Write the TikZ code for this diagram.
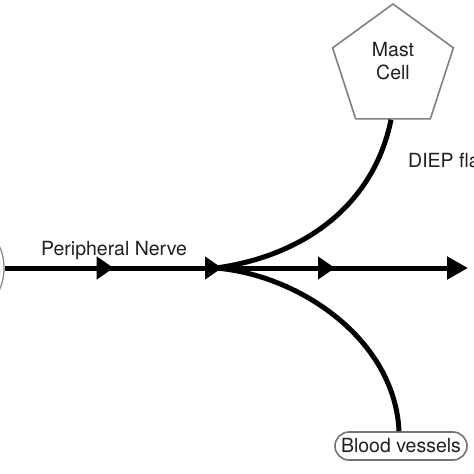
\documentclass[tikz,border=0pt]{standalone}
\usepackage{fontspec}
\setmainfont{TeX Gyre Heros}
\usetikzlibrary{arrows.meta,shapes.geometric,decorations.markings}
\tikzset{
  lbl/.style={font=\fontsize{19.5}{23}\selectfont, text=black!88, inner sep=0pt},
  cellshape/.style={regular polygon, regular polygon sides=5, draw=black!50, line width=1.6pt,
    minimum size=127pt, inner sep=0pt},
  vesselbox/.style={draw=black!55, line width=1.6pt, rounded corners=14pt, minimum width=132pt,
    minimum height=28pt, inner sep=0pt, font=\fontsize{19.5}{23}\selectfont, text=black!88},
  sidenode/.style={ellipse, draw=black!45, line width=1.3pt, minimum width=30pt, minimum height=60pt},
  nerve/.style={line width=5pt, -{Triangle[length=20pt,width=22pt]}},
  branch/.style={line width=5pt},
  tri/.style={Triangle[length=17pt,width=22pt]}
}
\begin{document}
\begin{tikzpicture}[x=1pt,y=-1pt]
\useasboundingbox (0,0) rectangle (474,474);
\node[sidenode] (side) at (-11,268) {};
\node[cellshape] (cell) at (393,67.5) {};
\node[lbl, align=center] (celltext) at (393,61.5) {Mast\\Cell};
\node[vesselbox] (vessels) at (401,446) {Blood vessels};
\node[lbl, anchor=base west] (nervetext) at (41,255) {Peripheral Nerve};
\node[lbl, anchor=base west] (dieptext) at (408,167) {DIEP flap};
\coordinate (J) at (222,268);
\coordinate (J0) at (216,268);
\coordinate (R) at (468,268);
\draw[branch] (J0) .. controls (310,255) and (375,200) .. ([xshift=-2pt]cell.south);
\draw[branch] (J0) .. controls (300,275) and (395,340) .. ([xshift=-2pt]vessels.north);
\draw[line width=5pt, -{Triangle[length=17pt,width=22pt]},
  postaction={decorate},
  decoration={markings, mark=at position 109pt with {\arrow{Triangle[length=17pt,width=22pt]}}}]
  (side.east) -- (J);
\draw[line width=5pt, -{Triangle[length=21pt,width=22pt]},
  postaction={decorate},
  decoration={markings, mark=at position 113pt with {\arrow{Triangle[length=17pt,width=22pt]}}}]
  (J) -- (R);
\end{tikzpicture}
\end{document}
